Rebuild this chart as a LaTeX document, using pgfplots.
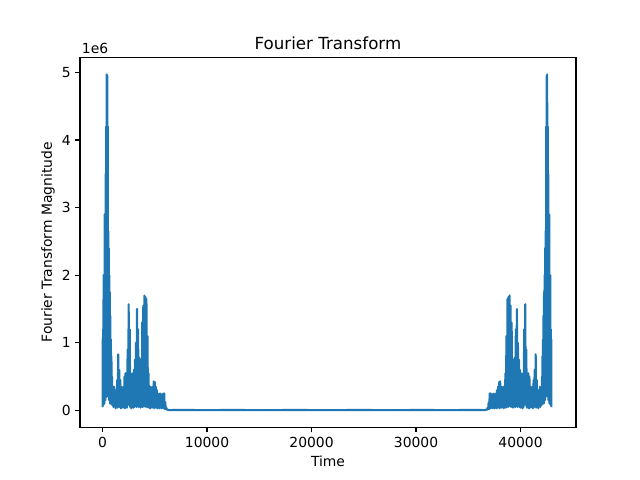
\documentclass[border=0pt]{standalone}
\usepackage{pgfplots}
\pgfplotsset{compat=1.18}
\usepackage{pgfplotstable}
\usepackage{fontspec}
\setmainfont{DejaVu Sans}
\definecolor{mplblue}{HTML}{1F77B4}
\pgfplotstableread{
x xr y
0 42950 0.05
10 42940 1.05
25 42925 0.10
50 42900 1.20
75 42875 0.08
100 42850 2.00
125 42825 0.15
150 42800 1.60
175 42775 0.10
200 42750 2.90
225 42725 0.20
250 42700 2.60
275 42675 0.15
300 42650 3.50
325 42625 0.30
350 42600 4.20
375 42575 0.20
400 42550 4.97
425 42525 0.50
450 42500 4.95
475 42475 0.30
500 42450 4.20
525 42425 0.25
550 42400 2.65
575 42375 0.20
600 42350 2.40
625 42325 0.15
650 42300 2.00
675 42275 0.20
700 42250 1.75
725 42225 0.10
750 42200 1.40
775 42175 0.15
800 42150 1.05
825 42125 0.10
850 42100 0.80
875 42075 0.12
900 42050 0.50
925 42025 0.08
950 42000 0.35
975 41975 0.10
1000 41950 0.30
1050 41900 0.05
1100 41850 0.35
1150 41800 0.08
1200 41750 0.30
1250 41700 0.03
1300 41650 0.30
1350 41600 0.06
1400 41550 0.45
1450 41500 0.04
1500 41450 0.83
1550 41400 0.08
1600 41350 0.60
1650 41300 0.05
1700 41250 0.45
1750 41200 0.03
1800 41150 0.35
1850 41100 0.06
1900 41050 0.30
1950 41000 0.04
2000 40950 0.35
2050 40900 0.05
2100 40850 0.50
2150 40800 0.03
2200 40750 0.55
2250 40700 0.06
2300 40650 0.55
2350 40600 0.04
2400 40550 0.90
2450 40500 0.08
2500 40450 1.57
2550 40400 0.10
2600 40350 1.20
2650 40300 0.05
2700 40250 0.55
2750 40200 0.03
2800 40150 0.50
2850 40100 0.06
2900 40050 0.55
2950 40000 0.04
3000 39950 0.60
3050 39900 0.05
3100 39850 0.75
3150 39800 0.07
3200 39750 1.00
3250 39700 0.05
3300 39650 1.50
3350 39600 0.08
3400 39550 1.20
3450 39500 0.05
3500 39450 0.78
3550 39400 0.06
3600 39350 0.75
3650 39300 0.04
3700 39250 0.75
3750 39200 0.07
3800 39150 1.30
3850 39100 0.05
3900 39050 1.55
3950 39000 0.08
4000 38950 1.70
4050 38900 0.06
4100 38850 1.68
4150 38800 0.05
4200 38750 1.65
4250 38700 0.07
4300 38650 1.10
4350 38600 0.04
4400 38550 0.55
4450 38500 0.05
4500 38450 0.35
4550 38400 0.03
4600 38350 0.35
4650 38300 0.05
4700 38250 0.33
4750 38200 0.04
4800 38150 0.35
4850 38100 0.05
4900 38050 0.43
4950 38000 0.03
5000 37950 0.42
5050 37900 0.05
5100 37850 0.35
5150 37800 0.04
5200 37750 0.30
5250 37700 0.03
5300 37650 0.25
5350 37600 0.04
5400 37550 0.22
5450 37500 0.03
5500 37450 0.25
5550 37400 0.04
5600 37350 0.24
5650 37300 0.03
5700 37250 0.20
5750 37200 0.04
5800 37150 0.25
5850 37100 0.03
5900 37050 0.25
5950 37000 0.02
6000 36950 0.12
6050 36900 0.02
6100 36850 0.04
6150 36800 0.01
6200 36750 0.015
6300 36650 0.005
8000 34950 0.006
10000 32950 0.004
12000 30950 0.006
14000 28950 0.005
16000 26950 0.004
18000 24950 0.006
20000 22950 0.005
21475 21475 0.005
}\fftdata

\begin{document}
\begin{tikzpicture}
\path[use as bounding box] (0,0) rectangle (460.8pt,345.6pt);
\begin{axis}[
  name=ax,
  at={(57.6pt,38.02pt)}, anchor=south west,
  scale only axis, width=357.12pt, height=266.11pt,
  xmin=-2157.5, xmax=45307.5, ymin=-0.2485, ymax=5.2185,
  tick align=outside, major tick length=3.5pt, tick pos=left,
  every tick/.style={black, line width=0.8pt},
  axis line style={line width=0.8pt},
  xtick={0,10000,20000,30000,40000}, ytick={0,1,2,3,4,5},
  scaled x ticks=false, scaled y ticks=false,
  xticklabels={0,10000,20000,30000,40000},
  /pgf/number format/assume math mode=true,
  /pgf/number format/set thousands separator={},
  tick label style={font=\fontsize{10}{12}\selectfont},
  xticklabel style={anchor=base, inner sep=0pt, yshift=-11.26pt},
  yticklabel style={anchor=east, inner sep=0pt, xshift=-2.98pt},
  xlabel={Time}, ylabel={Fourier Transform Magnitude}, title={Fourier Transform},
  every axis x label/.style={at={(axis description cs:0.5,0)}, anchor=base, yshift=-28.4pt, font=\fontsize{10}{12}\selectfont},
  every axis y label/.style={at={(axis description cs:-0.0645,0.5)}, rotate=90, anchor=center, font=\fontsize{10}{12}\selectfont},
  every axis title/.style={at={(axis description cs:0.5,1)}, anchor=base, yshift=6pt, font=\fontsize{12}{14}\selectfont},
]
\addplot[mplblue, line width=1.5pt, line join=round, mark=none] table[x=x, y=y] {\fftdata};
\addplot[mplblue, line width=1.5pt, line join=round, mark=none] table[x=xr, y=y] {\fftdata};
\end{axis}
\node[anchor=base west, inner sep=0pt, font=\fontsize{10}{12}\selectfont] at ([xshift=1.2pt, yshift=3.3pt]ax.north west) {1e6};
\end{tikzpicture}
\end{document}
